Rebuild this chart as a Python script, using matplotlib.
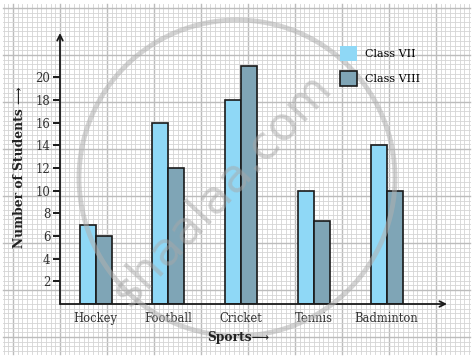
import numpy as np
import matplotlib
matplotlib.use('Agg')
from matplotlib import pyplot as plt
from matplotlib.patches import Patch, Circle

sports = ['Hockey', 'Football', 'Cricket', 'Tennis', 'Badminton']
class_vii = [7, 16, 18, 10, 14]
class_viii = [6, 12, 21, 7.3, 10]
y_ticks = [2, 4, 6, 8, 10, 12, 14, 16, 18, 20]

W, H = 474, 359
col_vii = '#8fd8f6'
col_viii = '#7fa5b6'
serif = ['DejaVu Serif', 'DejaVu Sans']

fig = plt.figure(figsize=(W / 100, H / 100), dpi=100)
fig.patch.set_facecolor('white')

# graph paper background, in pixel coords
bg = fig.add_axes([0, 0, 1, 1], zorder=0)
bg.set_xlim(0, W)
bg.set_ylim(H, 0)
bg.axis('off')
x0, x1, y0, y1 = 3, 470, 4, 354
for k, x in enumerate(np.arange(13 - 4.7 * 2, x1, 4.7)):
    if x < x0:
        continue
    major = (k % 10) == 2
    bg.plot([x, x], [y0, y1], color='#bcbcbc' if major else '#d4d4d4',
            lw=1.0 if major else 0.6, zorder=0)
for k, y in enumerate(np.arange(8, y1, 4.7)):
    major = (k % 10) == 0
    bg.plot([x0, x1], [y, y], color='#bcbcbc' if major else '#d4d4d4',
            lw=1.0 if major else 0.6, zorder=0)

# main chart
left, right, bottom, top = 60, 447, 304, 33
ax = fig.add_axes([left / W, (H - bottom) / H, (right - left) / W, (bottom - top) / H], zorder=1)
ax.patch.set_alpha(0)
ymax = (bottom - top) / 11.33
ax.set_ylim(0, ymax)
ax.set_xlim(-0.491, 4.832)

x = np.arange(len(sports))
w = 0.22
ax.bar(x - w / 2, class_vii, w, color=col_vii, edgecolor='#1a1a1a', lw=1.2)
ax.bar(x + w / 2, class_viii, w, color=col_viii, edgecolor='#1a1a1a', lw=1.2)

for s in ax.spines.values():
    s.set_visible(False)
ax.annotate('', xy=(0, 1), xycoords='axes fraction', xytext=(0, 0),
            arrowprops=dict(arrowstyle='->', lw=1.3, color='#1a1a1a', shrinkA=0, shrinkB=0))
ax.annotate('', xy=(1, 0), xycoords='axes fraction', xytext=(0, 0),
            arrowprops=dict(arrowstyle='->', lw=1.3, color='#1a1a1a', shrinkA=0, shrinkB=0))

ax.set_yticks(y_ticks)
ax.set_yticklabels([str(t) for t in y_ticks], family=serif, fontsize=8.5, color='#333333')
ax.tick_params(axis='y', length=5, width=1.4, color='#1a1a1a', pad=2)
ax.set_xticks(x)
ax.set_xticklabels(sports, family=serif, fontsize=8.3, color='#333333')
ax.tick_params(axis='x', length=0, pad=6)

fig.text(20 / W, 1 - 167 / H, 'Number of Students \u27f6', rotation=90, ha='center', va='center',
         family=serif, fontsize=8.8, fontweight='bold', color='#222222')
fig.text(238 / W, 1 - 338 / H, 'Sports\u27f6', ha='center', va='center',
         family=serif, fontsize=8.8, fontweight='bold', color='#222222')

handles = [Patch(facecolor=col_vii, edgecolor='none'),
           Patch(facecolor=col_viii, edgecolor='#1a1a1a', lw=1.2)]
fig.legend(handles, ['Class VII', 'Class VIII'], loc='upper left',
           bbox_to_anchor=(334 / W, 1 - 40 / H), frameon=False, borderpad=0,
           handlelength=1.6, handleheight=1.8, labelspacing=0.85, handletextpad=0.7,
           prop={'family': 'DejaVu Serif', 'size': 8})

# watermark
ov = fig.add_axes([0, 0, 1, 1], zorder=3)
ov.set_xlim(0, W)
ov.set_ylim(H, 0)
ov.axis('off')
ov.add_patch(Circle((237, 178), 158, fill=False, lw=3.5, edgecolor='#b0b0b0', alpha=0.55))
ov.text(222, 190, 'shaalaa.com', rotation=47, ha='center', va='center',
        fontsize=34, color='#a8a8a8', alpha=0.5, family='DejaVu Sans')

fig.savefig('out.png', dpi=100)
